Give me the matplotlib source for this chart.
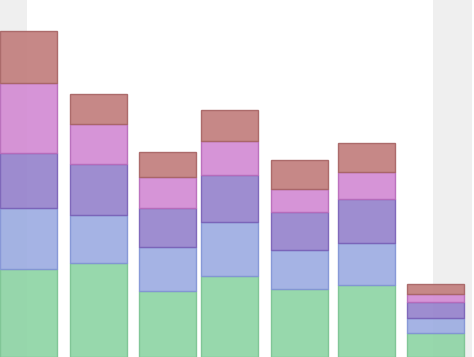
import numpy as np
import matplotlib
matplotlib.use("Agg")
import matplotlib.pyplot as plt

# ---------------------------------------------------------------------------
# Data (arbitrary units)
# ---------------------------------------------------------------------------
x_pos  = [28.5, 98.5, 167.5, 230.0, 299.5, 366.5, 435.7]
green  = [88.0, 93.7, 66.3, 81.3, 67.7, 71.7, 23.7]
blue   = [61.3, 48.6, 44.0, 53.4, 39.0, 42.0, 15.0]
purple = [54.4, 50.4, 38.7, 47.6, 38.6, 44.3, 16.3]
pink   = [70.3, 40.0, 30.7, 34.0, 23.0, 26.7, 8.3]
brown  = [52.0, 30.3, 25.0, 30.7, 28.7, 29.3, 9.7]

series = [green, blue, purple, pink, brown]
face_colors = ["#8fd5a6", "#9eaee2", "#9784cd", "#d38cd4", "#c27f7e"]
edge_colors = ["#7cc493", "#8394d6", "#7a62b8", "#b86cbb", "#a86565"]

BAR_WIDTH = 57

# ---------------------------------------------------------------------------
# Figure
# ---------------------------------------------------------------------------
fig = plt.figure(figsize=(4.74, 3.57), dpi=100)
ax = fig.add_axes([0, 0, 1, 1])
ax.set_xlim(0, 474)
ax.set_ylim(0, 357)
ax.axis("off")

# light grey bands at both sides
ax.axvspan(0, 27, color="#efefef", zorder=0, lw=0)
ax.axvspan(433, 472, color="#efefef", zorder=0, lw=0)

bottom = np.zeros(len(x_pos))
for vals, fc, ec in zip(series, face_colors, edge_colors):
    ax.bar(x_pos, vals, width=BAR_WIDTH, bottom=bottom, color=fc,
           edgecolor=ec, linewidth=1.0, alpha=0.93, zorder=2)
    bottom += np.array(vals)

fig.savefig("out.png", dpi=100)
